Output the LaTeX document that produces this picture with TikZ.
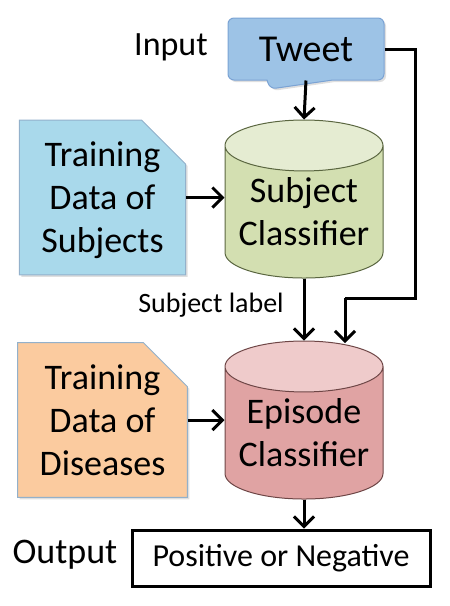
\documentclass[tikz,border=0pt]{standalone}
\usepackage{fontspec}
\setmainfont{Carlito}
\usetikzlibrary{shapes.geometric,shapes.callouts,shapes.misc,arrows.meta,shadows,positioning}

\definecolor{tweetfill}{HTML}{9DC3E6}
\definecolor{tweetline}{HTML}{7BA3D4}
\definecolor{subjdoc}{HTML}{A9D9EB}
\definecolor{disdoc}{HTML}{FBCB9F}
\definecolor{docline}{HTML}{93B1CB}
\definecolor{subjbody}{HTML}{D3DFB1}
\definecolor{subjtop}{HTML}{E5ECD2}
\definecolor{subjline}{HTML}{5A6640}
\definecolor{epibody}{HTML}{E0A3A3}
\definecolor{epitop}{HTML}{EFCBCB}
\definecolor{epiline}{HTML}{6E4646}

\tikzset{
  big/.style={font=\fontsize{36}{43}\selectfont, align=center},
  soft shadow/.style={drop shadow={opacity=0.25, shadow xshift=2pt, shadow yshift=-2pt}},
  cyl/.style={big, cylinder, shape border rotate=90, aspect=0.39,
    minimum width=158pt, minimum height=158pt, inner sep=0pt,
    cylinder uses custom fill, line width=1pt},
  doc/.style={big, chamfered rectangle, chamfered rectangle corners=north east,
    chamfered rectangle xsep=22pt, chamfered rectangle ysep=22pt, text depth=0pt,
    minimum width=165pt, draw=docline, line width=1pt, inner sep=0pt, soft shadow},
  arr/.style={->, line width=3pt},
}

\begin{document}
\begin{tikzpicture}[x=1pt, y=-1pt, >={Straight Barb[length=10pt,width=20pt]}]
  \useasboundingbox (0,0) rectangle (450,606);

  % input side
  \node[rectangle callout, rounded corners=6pt, fill=tweetfill, draw=tweetline, line width=1pt,
        minimum width=156pt, minimum height=62pt, callout absolute pointer={(270,89)},
        callout pointer width=66pt, soft shadow, font=\fontsize{38}{40}\selectfont] (tweet) at (306,49) {Tweet};
  \node[font=\fontsize{34}{36}\selectfont] (input) at (171,47) {Input};

  % classifiers
  \node[cyl, draw=subjline, cylinder body fill=subjbody, cylinder end fill=subjtop] (subj) at (304,212) {Subject\\Classifier};
  \node[cyl, draw=epiline, cylinder body fill=epibody, cylinder end fill=epitop] (epi) at (304,433) {Episode\\Classifier};

  % training data
  \node[doc, fill=subjdoc, minimum height=149pt] (tsubj) at (102.5,197.5) {Training\\Data of\\Subjects};
  \node[doc, fill=disdoc, minimum height=154pt] (tdis) at (102.5,420) {Training\\Data of\\Diseases};

  \node[font=\fontsize{28}{30}\selectfont] (slabel) at (211,305) {Subject label};

  % output side
  \node[draw, line width=3pt, minimum width=298pt, minimum height=56pt,
        font=\fontsize{32}{34}\selectfont] (out) at (281,558) {Positive or Negative};
  \node[font=\fontsize{36}{38}\selectfont] (output) at (65,555) {Output};

  \coordinate (corner) at (415,298);
  \coordinate (jog) at (345,298);
  \coordinate (epientry) at (345,343);

  \draw[arr] (tweet.south) -- (subj.north);
  \draw[arr] (tsubj.east) -- (tsubj.east -| subj.west);
  \draw[arr] (subj.south) -- (epi.north);
  \draw[line width=3pt] (tweet.east) -| (corner) -- (jog);
  \draw[arr] (jog) -- (epientry);
  \draw[arr] (tdis.east) -- (tdis.east -| epi.west);
  \draw[arr] (epi.south) -- (epi.south |- out.north);
\end{tikzpicture}
\end{document}
